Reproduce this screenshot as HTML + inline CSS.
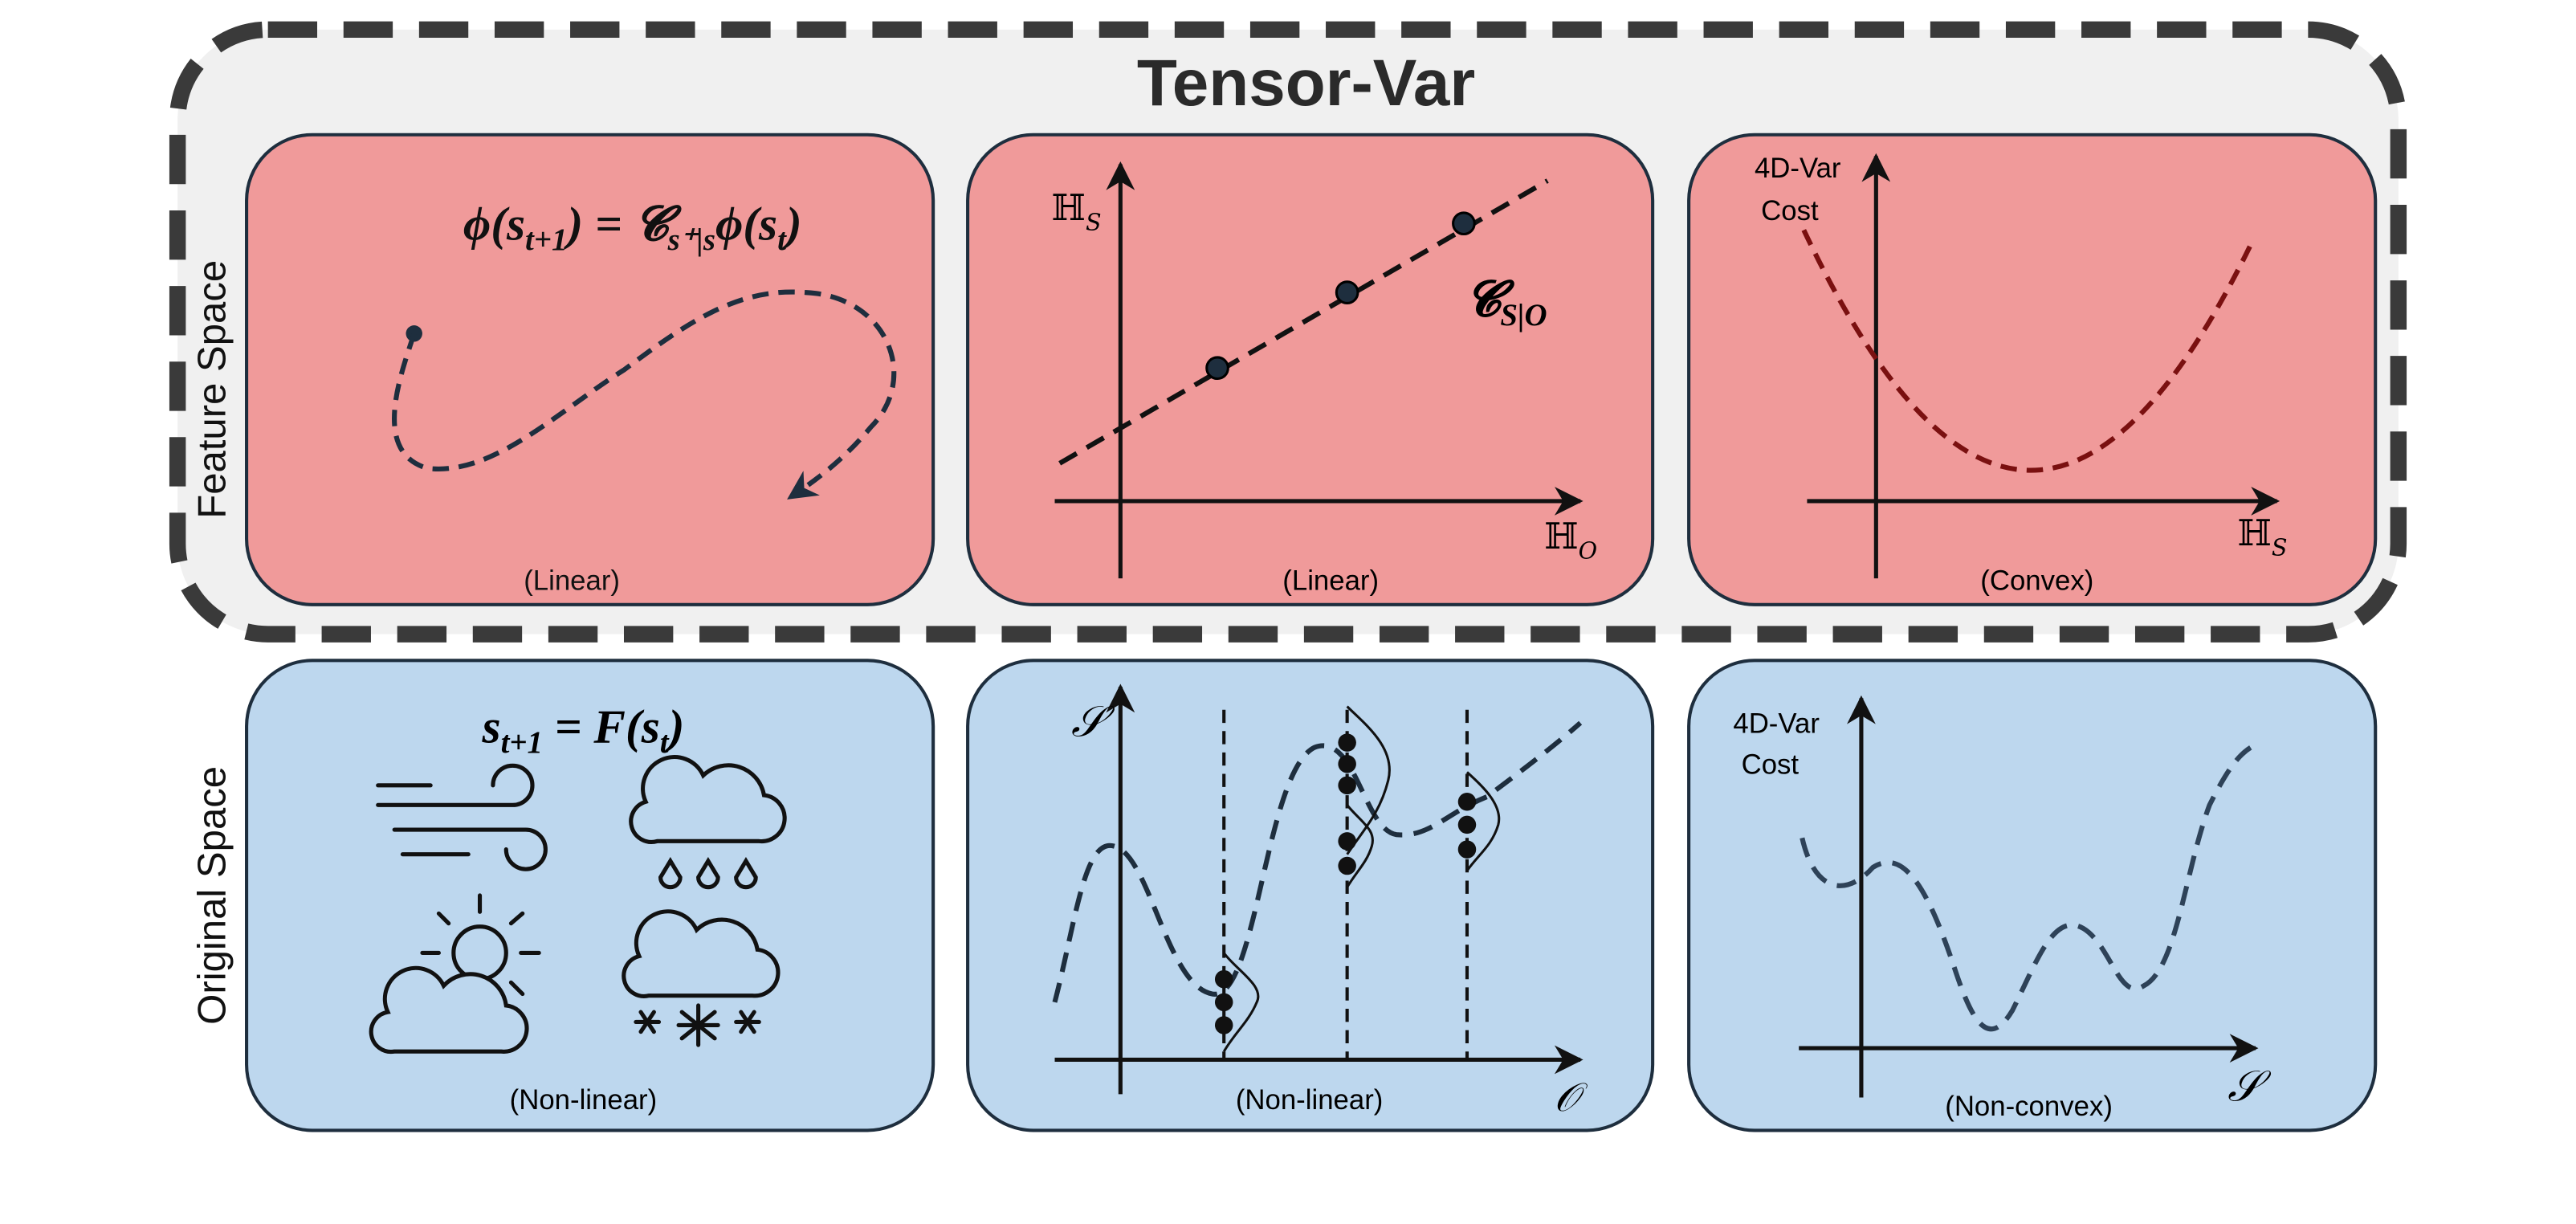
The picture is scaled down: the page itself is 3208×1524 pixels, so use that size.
<!DOCTYPE html>
<html><head><meta charset="utf-8"><style>html,body{margin:0;padding:0;background:#fff}svg{display:block}</style></head>
<body>
<svg width="3208" height="1524" viewBox="0 0 1568 745" xmlns="http://www.w3.org/2000/svg" font-family="Liberation Sans, DejaVu Sans, sans-serif">
<defs>
<marker id="ar" viewBox="0 0 10 10" refX="9" refY="5" markerWidth="7" markerHeight="7" orient="auto"><path d="M0,0 L10,5 L0,10 L3,5 z" fill="#111"/></marker>
<marker id="ar2" viewBox="0 0 10 10" refX="8" refY="5" markerWidth="6" markerHeight="6" orient="auto"><path d="M0,0 L10,5 L0,10 L3,5 z" fill="#1e2e3e"/></marker>
</defs>
<rect x="108" y="18" width="1352" height="368" rx="55" fill="#f0f0f0" stroke="#3a3a3a" stroke-width="10" stroke-dasharray="30 16"/>
<text x="795" y="64" text-anchor="middle" font-size="40" font-weight="bold" fill="#2a2a2a">Tensor-Var</text>
<text transform="translate(137,237) rotate(-90)" text-anchor="middle" font-size="24" fill="#111">Feature Space</text>
<text transform="translate(137,545) rotate(-90)" text-anchor="middle" font-size="24" fill="#111">Original Space</text>
<g stroke="#1e2e3e" stroke-width="2">
<rect x="150" y="82" width="418" height="286" rx="40" fill="#f09a9a"/>
<rect x="589" y="82" width="417" height="286" rx="40" fill="#f09a9a"/>
<rect x="1028" y="82" width="418" height="286" rx="40" fill="#f09a9a"/>
<rect x="150" y="402" width="418" height="286" rx="40" fill="#bdd7ee"/>
<rect x="589" y="402" width="417" height="286" rx="40" fill="#bdd7ee"/>
<rect x="1028" y="402" width="418" height="286" rx="40" fill="#bdd7ee"/>
</g>
<!-- Box1 -->
<text x="385" y="146" text-anchor="middle" font-size="29" font-weight="bold" font-style="italic" font-family="Liberation Serif, serif" fill="#111">ϕ(s<tspan font-size="19" dy="6">t+1</tspan><tspan dy="-6">) = 𝓒</tspan><tspan font-size="19" dy="6">s⁺|s</tspan><tspan dy="-6">ϕ(s</tspan><tspan font-size="19" dy="6">t</tspan><tspan dy="-6">)</tspan></text>
<circle cx="252" cy="203" r="5" fill="#1e2e3e"/>
<path d="M252,203 C245,225 225,275 260,285 C300,290 340,250 380,225 C420,195 450,175 490,178 C540,180 560,230 530,260 C515,278 500,290 482,302" fill="none" stroke="#1e2e3e" stroke-width="3" stroke-dasharray="10 6" marker-end="url(#ar2)"/>
<text x="348" y="359" text-anchor="middle" font-size="17" fill="#111">(Linear)</text>
<!-- Box2 -->
<g stroke="#111" stroke-width="2.5" fill="none"><line x1="682" y1="352" x2="682" y2="100" marker-end="url(#ar)"/><line x1="642" y1="305" x2="962" y2="305" marker-end="url(#ar)"/></g>
<text x="640" y="134" font-size="22" font-family="DejaVu Serif, serif">ℍ<tspan font-size="14" dy="6" font-style="italic">S</tspan></text>
<text x="940" y="334" font-size="22" font-family="DejaVu Serif, serif">ℍ<tspan font-size="14" dy="6" font-style="italic">O</tspan></text>
<line x1="645" y1="282" x2="942" y2="110" stroke="#111" stroke-width="3" stroke-dasharray="12 7"/>
<g fill="#1e2e3e" stroke="#000" stroke-width="1.5"><circle cx="741" cy="224" r="6.5"/><circle cx="820" cy="178" r="6.5"/><circle cx="891" cy="136" r="6.5"/></g>
<text x="892" y="192" font-size="30" font-weight="bold" font-style="italic" font-family="Liberation Serif, serif">𝓒<tspan font-size="19" dy="6">S|O</tspan></text>
<text x="810" y="359" text-anchor="middle" font-size="17">(Linear)</text>
<!-- Box3 -->
<g stroke="#111" stroke-width="2.5" fill="none"><line x1="1142" y1="352" x2="1142" y2="95" marker-end="url(#ar)"/><line x1="1100" y1="305" x2="1386" y2="305" marker-end="url(#ar)"/></g>
<text x="1068" y="108" font-size="17">4D-Var</text><text x="1072" y="134" font-size="17">Cost</text>
<path d="M1098,140 Q1235,430 1372,145" fill="none" stroke="#7a1010" stroke-width="3" stroke-dasharray="10 6"/>
<text x="1362" y="332" font-size="22" font-family="DejaVu Serif, serif">ℍ<tspan font-size="14" dy="6" font-style="italic">S</tspan></text>
<text x="1240" y="359" text-anchor="middle" font-size="17">(Convex)</text>
<!-- Box4 -->
<text x="355" y="452" text-anchor="middle" font-size="29" font-weight="bold" font-style="italic" font-family="Liberation Serif, serif">s<tspan font-size="19" dy="6">t+1</tspan><tspan dy="-6"> = F(s</tspan><tspan font-size="19" dy="6">t</tspan><tspan dy="-6">)</tspan></text>
<g fill="none" stroke="#111" stroke-width="2.5" stroke-linecap="round">
<path d="M230,490 H312 A12,12 0 1 0 300,478"/><path d="M240,505 H320 A12,12 0 1 1 308,517"/><path d="M245,520 H285"/><path d="M230,478 H262"/>
<path d="M400,512 H462 A14,14 0 0 0 465,484 A22,22 0 0 0 428,472 A18,18 0 0 0 393,488 A12,12 0 0 0 400,512 z"/>
<path d="M408,524 L402,534 A6,6 0 1 0 414,534 z"/><path d="M431,524 L425,534 A6,6 0 1 0 437,534 z"/><path d="M454,524 L448,534 A6,6 0 1 0 460,534 z"/>
<circle cx="292" cy="580" r="16"/>
<path d="M292,545 V555 M292,605 V613 M257,580 H267 M317,580 H328 M267,556 L273,562 M311,598 L318,605 M318,556 L311,562"/>
<path d="M240,640 H305 A14,14 0 0 0 308,612 A22,22 0 0 0 270,600 A18,18 0 0 0 236,616 A12,12 0 0 0 240,640 z" fill="#bdd7ee"/>
<path d="M395,606 H458 A14,14 0 0 0 461,578 A22,22 0 0 0 424,566 A18,18 0 0 0 389,582 A12,12 0 0 0 395,606 z"/>
<path d="M390,616 L398,628 M398,616 L390,628 M387,622 H401"/>
<path d="M425,612 V636 M415,616 L435,632 M435,616 L415,632 M413,624 H437"/>
<path d="M451,616 L459,628 M459,616 L451,628 M448,622 H462"/>
</g>
<text x="355" y="675" text-anchor="middle" font-size="17">(Non-linear)</text>
<!-- Box5 -->
<g stroke="#111" stroke-width="2.5" fill="none"><line x1="682" y1="666" x2="682" y2="418" marker-end="url(#ar)"/><line x1="642" y1="645" x2="962" y2="645" marker-end="url(#ar)"/></g>
<text x="652" y="448" font-size="26" font-style="italic" font-family="DejaVu Serif, serif">𝒮</text>
<text x="946" y="676" font-size="24" font-style="italic" font-family="DejaVu Serif, serif">𝒪</text>
<g stroke="#111" stroke-width="2" stroke-dasharray="8 5"><line x1="745" y1="432" x2="745" y2="645"/><line x1="820" y1="432" x2="820" y2="645"/><line x1="893" y1="432" x2="893" y2="645"/></g>
<path d="M642,610 C655,560 660,510 678,515 C700,520 710,600 738,605 C765,610 770,470 800,455 C825,445 830,505 850,508 C870,510 880,495 905,485 C925,470 945,455 962,440" fill="none" stroke="#1e2e3e" stroke-width="3" stroke-dasharray="12 7"/>
<g fill="none" stroke="#111" stroke-width="1.5">
<path d="M745,580 C752,590 770,600 765,610 C760,622 752,628 745,640"/>
<path d="M820,430 C830,440 850,455 845,475 C840,495 830,505 820,520 M820,490 C828,500 838,505 835,515 C832,525 826,530 820,540"/>
<path d="M893,470 C902,478 915,490 912,502 C908,515 900,520 893,530"/>
</g>
<g fill="#111"><circle cx="745" cy="596" r="5.5"/><circle cx="745" cy="610" r="5.5"/><circle cx="745" cy="624" r="5.5"/>
<circle cx="820" cy="452" r="5.5"/><circle cx="820" cy="465" r="5.5"/><circle cx="820" cy="478" r="5.5"/><circle cx="820" cy="512" r="5.5"/><circle cx="820" cy="527" r="5.5"/>
<circle cx="893" cy="488" r="5.5"/><circle cx="893" cy="502" r="5.5"/><circle cx="893" cy="517" r="5.5"/></g>
<text x="797" y="675" text-anchor="middle" font-size="17">(Non-linear)</text>
<!-- Box6 -->
<g stroke="#111" stroke-width="2.5" fill="none"><line x1="1133" y1="668" x2="1133" y2="425" marker-end="url(#ar)"/><line x1="1095" y1="638" x2="1373" y2="638" marker-end="url(#ar)"/></g>
<text x="1055" y="446" font-size="17">4D-Var</text><text x="1060" y="471" font-size="17">Cost</text>
<path d="M1097,510 C1105,545 1125,545 1140,528 C1160,515 1175,545 1190,590 C1200,620 1210,640 1225,615 C1240,585 1250,555 1268,565 C1285,575 1290,610 1305,600 C1325,590 1330,530 1345,490 C1355,470 1362,460 1370,455" fill="none" stroke="#2e4258" stroke-width="3" stroke-dasharray="12 7"/>
<text x="1356" y="670" font-size="26" font-style="italic" font-family="DejaVu Serif, serif">𝒮</text>
<text x="1235" y="679" text-anchor="middle" font-size="17">(Non-convex)</text>
</svg>
</body></html>
